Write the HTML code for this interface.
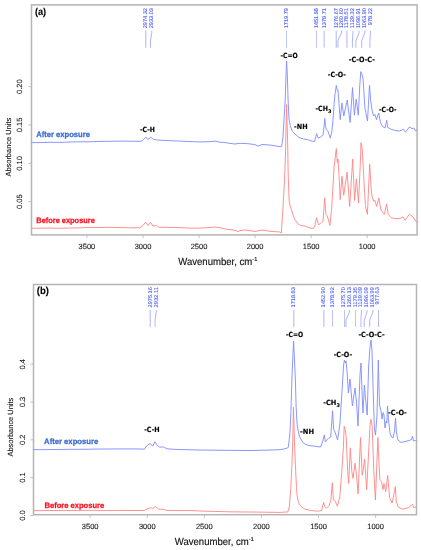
<!DOCTYPE html>
<html><head><meta charset="utf-8"><title>FTIR spectra</title>
<style>
html,body{margin:0;padding:0;background:#fff;}
body{width:421px;height:550px;overflow:hidden;}
svg{display:block;font-family:'Liberation Sans', Arial, sans-serif;text-rendering:geometricPrecision;}
</style></head>
<body>
<svg width="421" height="550" viewBox="0 0 421 550">
<rect width="421" height="550" fill="#fff"/>
<rect x="31.5" y="4.9" width="385.6" height="230.0" fill="none" stroke="#b4b4b4" stroke-width="1.5"/>
<line x1="86.9" y1="234.9" x2="86.9" y2="238.1" stroke="#b4b4b4" stroke-width="0.8"/>
<text x="86.9" y="249.20000000000002" font-size="7.5" font-weight="normal" fill="#222" text-anchor="middle" stroke="#222" stroke-width="0.12">3500</text>
<line x1="143.0" y1="234.9" x2="143.0" y2="238.1" stroke="#b4b4b4" stroke-width="0.8"/>
<text x="143.0" y="249.20000000000002" font-size="7.5" font-weight="normal" fill="#222" text-anchor="middle" stroke="#222" stroke-width="0.12">3000</text>
<line x1="199.0" y1="234.9" x2="199.0" y2="238.1" stroke="#b4b4b4" stroke-width="0.8"/>
<text x="199.0" y="249.20000000000002" font-size="7.5" font-weight="normal" fill="#222" text-anchor="middle" stroke="#222" stroke-width="0.12">2500</text>
<line x1="255.1" y1="234.9" x2="255.1" y2="238.1" stroke="#b4b4b4" stroke-width="0.8"/>
<text x="255.1" y="249.20000000000002" font-size="7.5" font-weight="normal" fill="#222" text-anchor="middle" stroke="#222" stroke-width="0.12">2000</text>
<line x1="311.2" y1="234.9" x2="311.2" y2="238.1" stroke="#b4b4b4" stroke-width="0.8"/>
<text x="311.2" y="249.20000000000002" font-size="7.5" font-weight="normal" fill="#222" text-anchor="middle" stroke="#222" stroke-width="0.12">1500</text>
<line x1="367.2" y1="234.9" x2="367.2" y2="238.1" stroke="#b4b4b4" stroke-width="0.8"/>
<text x="367.2" y="249.20000000000002" font-size="7.5" font-weight="normal" fill="#222" text-anchor="middle" stroke="#222" stroke-width="0.12">1000</text>
<line x1="28.3" y1="201.6" x2="31.5" y2="201.6" stroke="#b4b4b4" stroke-width="0.8"/>
<text x="21.9" y="201.6" font-size="7.5" font-weight="normal" fill="#222" text-anchor="middle" transform="rotate(-90 21.9 201.6)" stroke="#222" stroke-width="0.12">0.05</text>
<line x1="28.3" y1="163.4" x2="31.5" y2="163.4" stroke="#b4b4b4" stroke-width="0.8"/>
<text x="21.9" y="163.4" font-size="7.5" font-weight="normal" fill="#222" text-anchor="middle" transform="rotate(-90 21.9 163.4)" stroke="#222" stroke-width="0.12">0.10</text>
<line x1="28.3" y1="124.9" x2="31.5" y2="124.9" stroke="#b4b4b4" stroke-width="0.8"/>
<text x="21.9" y="124.9" font-size="7.5" font-weight="normal" fill="#222" text-anchor="middle" transform="rotate(-90 21.9 124.9)" stroke="#222" stroke-width="0.12">0.15</text>
<line x1="28.3" y1="86.6" x2="31.5" y2="86.6" stroke="#b4b4b4" stroke-width="0.8"/>
<text x="21.9" y="86.6" font-size="7.5" font-weight="normal" fill="#222" text-anchor="middle" transform="rotate(-90 21.9 86.6)" stroke="#222" stroke-width="0.12">0.20</text>
<text x="178.3" y="265.3" font-size="10.3" fill="#111" stroke="#111" stroke-width="0.15"><tspan textLength="74.0" lengthAdjust="spacingAndGlyphs">Wavenumber, cm</tspan><tspan font-size="5.6" dy="-3.9">-1</tspan></text>
<text x="11.2" y="147.2" font-size="7.5" font-weight="normal" fill="#222" text-anchor="middle" textLength="58.8" lengthAdjust="spacingAndGlyphs" transform="rotate(-90 11.2 147.2)" stroke="#222" stroke-width="0.12">Absorbance Units</text>
<rect x="33.5" y="284.5" width="383.0" height="230.2" fill="none" stroke="#b4b4b4" stroke-width="1.5"/>
<line x1="90.2" y1="514.7" x2="90.2" y2="517.9" stroke="#b4b4b4" stroke-width="0.8"/>
<text x="90.2" y="529.0" font-size="7.5" font-weight="normal" fill="#222" text-anchor="middle" stroke="#222" stroke-width="0.12">3500</text>
<line x1="147.3" y1="514.7" x2="147.3" y2="517.9" stroke="#b4b4b4" stroke-width="0.8"/>
<text x="147.3" y="529.0" font-size="7.5" font-weight="normal" fill="#222" text-anchor="middle" stroke="#222" stroke-width="0.12">3000</text>
<line x1="204.3" y1="514.7" x2="204.3" y2="517.9" stroke="#b4b4b4" stroke-width="0.8"/>
<text x="204.3" y="529.0" font-size="7.5" font-weight="normal" fill="#222" text-anchor="middle" stroke="#222" stroke-width="0.12">2500</text>
<line x1="261.4" y1="514.7" x2="261.4" y2="517.9" stroke="#b4b4b4" stroke-width="0.8"/>
<text x="261.4" y="529.0" font-size="7.5" font-weight="normal" fill="#222" text-anchor="middle" stroke="#222" stroke-width="0.12">2000</text>
<line x1="318.5" y1="514.7" x2="318.5" y2="517.9" stroke="#b4b4b4" stroke-width="0.8"/>
<text x="318.5" y="529.0" font-size="7.5" font-weight="normal" fill="#222" text-anchor="middle" stroke="#222" stroke-width="0.12">1500</text>
<line x1="375.6" y1="514.7" x2="375.6" y2="517.9" stroke="#b4b4b4" stroke-width="0.8"/>
<text x="375.6" y="529.0" font-size="7.5" font-weight="normal" fill="#222" text-anchor="middle" stroke="#222" stroke-width="0.12">1000</text>
<line x1="30.3" y1="515.5" x2="33.5" y2="515.5" stroke="#b4b4b4" stroke-width="0.8"/>
<text x="24.799999999999997" y="515.5" font-size="7.5" font-weight="normal" fill="#222" text-anchor="middle" transform="rotate(-90 24.799999999999997 515.5)" stroke="#222" stroke-width="0.12">0.0</text>
<line x1="30.3" y1="477.6" x2="33.5" y2="477.6" stroke="#b4b4b4" stroke-width="0.8"/>
<text x="24.799999999999997" y="477.6" font-size="7.5" font-weight="normal" fill="#222" text-anchor="middle" transform="rotate(-90 24.799999999999997 477.6)" stroke="#222" stroke-width="0.12">0.1</text>
<line x1="30.3" y1="439.8" x2="33.5" y2="439.8" stroke="#b4b4b4" stroke-width="0.8"/>
<text x="24.799999999999997" y="439.8" font-size="7.5" font-weight="normal" fill="#222" text-anchor="middle" transform="rotate(-90 24.799999999999997 439.8)" stroke="#222" stroke-width="0.12">0.2</text>
<line x1="30.3" y1="402.0" x2="33.5" y2="402.0" stroke="#b4b4b4" stroke-width="0.8"/>
<text x="24.799999999999997" y="402.0" font-size="7.5" font-weight="normal" fill="#222" text-anchor="middle" transform="rotate(-90 24.799999999999997 402.0)" stroke="#222" stroke-width="0.12">0.3</text>
<line x1="30.3" y1="364.2" x2="33.5" y2="364.2" stroke="#b4b4b4" stroke-width="0.8"/>
<text x="24.799999999999997" y="364.2" font-size="7.5" font-weight="normal" fill="#222" text-anchor="middle" transform="rotate(-90 24.799999999999997 364.2)" stroke="#222" stroke-width="0.12">0.4</text>
<text x="174.8" y="544.6" font-size="10.3" fill="#111" stroke="#111" stroke-width="0.15"><tspan textLength="74.0" lengthAdjust="spacingAndGlyphs">Wavenumber, cm</tspan><tspan font-size="5.6" dy="-3.9">-1</tspan></text>
<text x="13.2" y="427.1" font-size="7.5" font-weight="normal" fill="#222" text-anchor="middle" textLength="58.8" lengthAdjust="spacingAndGlyphs" transform="rotate(-90 13.2 427.1)" stroke="#222" stroke-width="0.12">Absorbance Units</text>
<text x="34.9" y="15.3" font-size="10.0" font-weight="bold" fill="#000" textLength="11.3" lengthAdjust="spacingAndGlyphs" stroke="#000" stroke-width="0.1">(a)</text>
<text x="36.8" y="293.5" font-size="10.2" font-weight="bold" fill="#000" textLength="12.2" lengthAdjust="spacingAndGlyphs" stroke="#000" stroke-width="0.1">(b)</text>
<text x="36.2" y="137.0" font-size="7.9" font-weight="bold" fill="#3a6bcf" textLength="53.7" lengthAdjust="spacingAndGlyphs" stroke="#3a6bcf" stroke-width="0.25">After exposure</text>
<text x="36.3" y="223.0" font-size="7.9" font-weight="bold" fill="#ff0f1f" textLength="58.5" lengthAdjust="spacingAndGlyphs" stroke="#ff0f1f" stroke-width="0.25">Before exposure</text>
<text x="44.1" y="443.8" font-size="7.9" font-weight="bold" fill="#3a6bcf" textLength="54.1" lengthAdjust="spacingAndGlyphs" stroke="#3a6bcf" stroke-width="0.25">After exposure</text>
<text x="44.5" y="507.5" font-size="7.9" font-weight="bold" fill="#ff0f1f" textLength="59.7" lengthAdjust="spacingAndGlyphs" stroke="#ff0f1f" stroke-width="0.25">Before exposure</text>
<text x="140.0" y="131.5" font-size="7.2" font-weight="bold" fill="#000" textLength="15.0" lengthAdjust="spacingAndGlyphs" stroke="#000" stroke-width="0.12" font-family="DejaVu Sans">-C-H</text>
<text x="280.4" y="57.6" font-size="7.2" font-weight="bold" fill="#000" textLength="17.4" lengthAdjust="spacingAndGlyphs" stroke="#000" stroke-width="0.12" font-family="DejaVu Sans">-C=O</text>
<text x="294.1" y="129.0" font-size="7.2" font-weight="bold" fill="#000" textLength="13.5" lengthAdjust="spacingAndGlyphs" stroke="#000" stroke-width="0.12" font-family="DejaVu Sans">-NH</text>
<text x="315.5" y="111.2" font-size="7.2" font-weight="bold" fill="#000" stroke="#000" stroke-width="0.12" font-family="DejaVu Sans"><tspan textLength="12.5" lengthAdjust="spacingAndGlyphs">-CH</tspan><tspan font-size="5" dy="1.6">3</tspan></text>
<text x="327.8" y="77.0" font-size="7.2" font-weight="bold" fill="#000" textLength="18.2" lengthAdjust="spacingAndGlyphs" stroke="#000" stroke-width="0.12" font-family="DejaVu Sans">-C-O-</text>
<text x="348.7" y="61.9" font-size="7.2" font-weight="bold" fill="#000" textLength="26.3" lengthAdjust="spacingAndGlyphs" stroke="#000" stroke-width="0.12" font-family="DejaVu Sans">-C-O-C-</text>
<text x="379.1" y="112.0" font-size="7.2" font-weight="bold" fill="#000" textLength="17.4" lengthAdjust="spacingAndGlyphs" stroke="#000" stroke-width="0.12" font-family="DejaVu Sans">-C-O-</text>
<text x="144.2" y="431.5" font-size="7.2" font-weight="bold" fill="#000" textLength="15.5" lengthAdjust="spacingAndGlyphs" stroke="#000" stroke-width="0.12" font-family="DejaVu Sans">-C-H</text>
<text x="286.0" y="336.9" font-size="7.2" font-weight="bold" fill="#000" textLength="17.1" lengthAdjust="spacingAndGlyphs" stroke="#000" stroke-width="0.12" font-family="DejaVu Sans">-C=O</text>
<text x="300.0" y="434.1" font-size="7.2" font-weight="bold" fill="#000" textLength="14.0" lengthAdjust="spacingAndGlyphs" stroke="#000" stroke-width="0.12" font-family="DejaVu Sans">-NH</text>
<text x="323.2" y="404.9" font-size="7.2" font-weight="bold" fill="#000" stroke="#000" stroke-width="0.12" font-family="DejaVu Sans"><tspan textLength="13.2" lengthAdjust="spacingAndGlyphs">-CH</tspan><tspan font-size="5" dy="1.6">3</tspan></text>
<text x="333.7" y="356.5" font-size="7.2" font-weight="bold" fill="#000" textLength="18.4" lengthAdjust="spacingAndGlyphs" stroke="#000" stroke-width="0.12" font-family="DejaVu Sans">-C-O-</text>
<text x="358.4" y="336.8" font-size="7.2" font-weight="bold" fill="#000" textLength="26.2" lengthAdjust="spacingAndGlyphs" stroke="#000" stroke-width="0.12" font-family="DejaVu Sans">-C-O-C-</text>
<text x="388.0" y="415.2" font-size="7.2" font-weight="bold" fill="#000" textLength="18.8" lengthAdjust="spacingAndGlyphs" stroke="#000" stroke-width="0.12" font-family="DejaVu Sans">-C-O-</text>
<text x="146.9" y="28.3" font-size="5.5" fill="#4f60f2" stroke="#4f60f2" stroke-width="0.1" textLength="20.3" lengthAdjust="spacingAndGlyphs" transform="rotate(-90 146.9 28.3)">2974.32</text>
<line x1="145.8" y1="30.6" x2="145.8" y2="47.7" stroke="#4f60f2" stroke-width="0.55" opacity="0.85"/>
<text x="153.4" y="28.3" font-size="5.5" fill="#4f60f2" stroke="#4f60f2" stroke-width="0.1" textLength="20.3" lengthAdjust="spacingAndGlyphs" transform="rotate(-90 153.4 28.3)">2933.03</text>
<polyline points="151.8,30.6 151.8,32.7 150.5,40.9 150.5,47.7" fill="none" stroke="#4f60f2" stroke-width="0.55" opacity="0.85"/>
<text x="288.0" y="28.3" font-size="5.5" fill="#4f60f2" stroke="#4f60f2" stroke-width="0.1" textLength="20.3" lengthAdjust="spacingAndGlyphs" transform="rotate(-90 288.0 28.3)">1719.79</text>
<line x1="286.7" y1="30.6" x2="286.7" y2="47.7" stroke="#4f60f2" stroke-width="0.55" opacity="0.85"/>
<text x="317.9" y="28.3" font-size="5.5" fill="#4f60f2" stroke="#4f60f2" stroke-width="0.1" textLength="20.3" lengthAdjust="spacingAndGlyphs" transform="rotate(-90 317.9 28.3)">1451.88</text>
<line x1="316.3" y1="30.6" x2="316.3" y2="47.7" stroke="#4f60f2" stroke-width="0.55" opacity="0.85"/>
<text x="325.9" y="28.3" font-size="5.5" fill="#4f60f2" stroke="#4f60f2" stroke-width="0.1" textLength="20.3" lengthAdjust="spacingAndGlyphs" transform="rotate(-90 325.9 28.3)">1378.71</text>
<line x1="324.1" y1="30.6" x2="324.1" y2="47.7" stroke="#4f60f2" stroke-width="0.55" opacity="0.85"/>
<text x="337.7" y="28.3" font-size="5.5" fill="#4f60f2" stroke="#4f60f2" stroke-width="0.1" textLength="20.3" lengthAdjust="spacingAndGlyphs" transform="rotate(-90 337.7 28.3)">1276.67</text>
<line x1="336.2" y1="30.6" x2="336.2" y2="47.7" stroke="#4f60f2" stroke-width="0.55" opacity="0.85"/>
<text x="343.1" y="28.3" font-size="5.5" fill="#4f60f2" stroke="#4f60f2" stroke-width="0.1" textLength="20.3" lengthAdjust="spacingAndGlyphs" transform="rotate(-90 343.1 28.3)">1260.60</text>
<polyline points="341.5,30.6 341.5,32.7 337.9,40.9 337.9,47.7" fill="none" stroke="#4f60f2" stroke-width="0.55" opacity="0.85"/>
<text x="348.4" y="28.3" font-size="5.5" fill="#4f60f2" stroke="#4f60f2" stroke-width="0.1" textLength="20.3" lengthAdjust="spacingAndGlyphs" transform="rotate(-90 348.4 28.3)">1178.51</text>
<line x1="346.9" y1="30.6" x2="346.9" y2="47.7" stroke="#4f60f2" stroke-width="0.55" opacity="0.85"/>
<text x="354.5" y="28.3" font-size="5.5" fill="#4f60f2" stroke="#4f60f2" stroke-width="0.1" textLength="20.3" lengthAdjust="spacingAndGlyphs" transform="rotate(-90 354.5 28.3)">1129.32</text>
<polyline points="352.9,30.6 352.9,32.7 352.4,40.9 352.4,47.7" fill="none" stroke="#4f60f2" stroke-width="0.55" opacity="0.85"/>
<text x="360.2" y="28.3" font-size="5.5" fill="#4f60f2" stroke="#4f60f2" stroke-width="0.1" textLength="20.3" lengthAdjust="spacingAndGlyphs" transform="rotate(-90 360.2 28.3)">1096.91</text>
<polyline points="359.0,30.6 359.0,32.7 355.9,40.9 355.9,47.7" fill="none" stroke="#4f60f2" stroke-width="0.55" opacity="0.85"/>
<text x="365.9" y="28.3" font-size="5.5" fill="#4f60f2" stroke="#4f60f2" stroke-width="0.1" textLength="20.3" lengthAdjust="spacingAndGlyphs" transform="rotate(-90 365.9 28.3)">1063.90</text>
<polyline points="364.8,30.6 364.8,32.7 361.7,40.9 361.7,47.7" fill="none" stroke="#4f60f2" stroke-width="0.55" opacity="0.85"/>
<text x="371.6" y="25.2" font-size="5.5" fill="#4f60f2" stroke="#4f60f2" stroke-width="0.1" textLength="17.2" lengthAdjust="spacingAndGlyphs" transform="rotate(-90 371.6 25.2)">978.22</text>
<polyline points="370.4,30.6 370.4,32.7 369.9,40.9 369.9,47.7" fill="none" stroke="#4f60f2" stroke-width="0.55" opacity="0.85"/>
<text x="151.6" y="307.5" font-size="5.5" fill="#4f60f2" stroke="#4f60f2" stroke-width="0.1" textLength="20.4" lengthAdjust="spacingAndGlyphs" transform="rotate(-90 151.6 307.5)">2975.16</text>
<line x1="150.2" y1="310.0" x2="150.2" y2="327.0" stroke="#4f60f2" stroke-width="0.55" opacity="0.85"/>
<text x="157.6" y="307.5" font-size="5.5" fill="#4f60f2" stroke="#4f60f2" stroke-width="0.1" textLength="20.4" lengthAdjust="spacingAndGlyphs" transform="rotate(-90 157.6 307.5)">2932.11</text>
<polyline points="156.2,310.0 156.2,312.0 155.1,320.2 155.1,327.0" fill="none" stroke="#4f60f2" stroke-width="0.55" opacity="0.85"/>
<text x="295.4" y="307.5" font-size="5.5" fill="#4f60f2" stroke="#4f60f2" stroke-width="0.1" textLength="20.4" lengthAdjust="spacingAndGlyphs" transform="rotate(-90 295.4 307.5)">1718.83</text>
<line x1="293.8" y1="310.0" x2="293.8" y2="327.0" stroke="#4f60f2" stroke-width="0.55" opacity="0.85"/>
<text x="325.4" y="307.5" font-size="5.5" fill="#4f60f2" stroke="#4f60f2" stroke-width="0.1" textLength="20.4" lengthAdjust="spacingAndGlyphs" transform="rotate(-90 325.4 307.5)">1452.90</text>
<line x1="323.9" y1="310.0" x2="323.9" y2="327.0" stroke="#4f60f2" stroke-width="0.55" opacity="0.85"/>
<text x="333.5" y="307.5" font-size="5.5" fill="#4f60f2" stroke="#4f60f2" stroke-width="0.1" textLength="20.4" lengthAdjust="spacingAndGlyphs" transform="rotate(-90 333.5 307.5)">1378.92</text>
<line x1="332.3" y1="310.0" x2="332.3" y2="327.0" stroke="#4f60f2" stroke-width="0.55" opacity="0.85"/>
<text x="345.1" y="307.5" font-size="5.5" fill="#4f60f2" stroke="#4f60f2" stroke-width="0.1" textLength="20.4" lengthAdjust="spacingAndGlyphs" transform="rotate(-90 345.1 307.5)">1275.70</text>
<line x1="344.3" y1="310.0" x2="344.3" y2="327.0" stroke="#4f60f2" stroke-width="0.55" opacity="0.85"/>
<text x="350.5" y="307.5" font-size="5.5" fill="#4f60f2" stroke="#4f60f2" stroke-width="0.1" textLength="20.4" lengthAdjust="spacingAndGlyphs" transform="rotate(-90 350.5 307.5)">1260.13</text>
<polyline points="349.5,310.0 349.5,312.0 345.9,320.2 345.9,327.0" fill="none" stroke="#4f60f2" stroke-width="0.55" opacity="0.85"/>
<text x="356.5" y="307.5" font-size="5.5" fill="#4f60f2" stroke="#4f60f2" stroke-width="0.1" textLength="20.4" lengthAdjust="spacingAndGlyphs" transform="rotate(-90 356.5 307.5)">1179.35</text>
<line x1="355.7" y1="310.0" x2="355.7" y2="327.0" stroke="#4f60f2" stroke-width="0.55" opacity="0.85"/>
<text x="362.2" y="307.5" font-size="5.5" fill="#4f60f2" stroke="#4f60f2" stroke-width="0.1" textLength="20.4" lengthAdjust="spacingAndGlyphs" transform="rotate(-90 362.2 307.5)">1129.09</text>
<polyline points="361.4,310.0 361.4,312.0 361.0,320.2 361.0,327.0" fill="none" stroke="#4f60f2" stroke-width="0.55" opacity="0.85"/>
<text x="367.9" y="307.5" font-size="5.5" fill="#4f60f2" stroke="#4f60f2" stroke-width="0.1" textLength="20.4" lengthAdjust="spacingAndGlyphs" transform="rotate(-90 367.9 307.5)">1096.09</text>
<polyline points="367.0,310.0 367.0,312.0 364.2,320.2 364.2,327.0" fill="none" stroke="#4f60f2" stroke-width="0.55" opacity="0.85"/>
<text x="373.6" y="307.5" font-size="5.5" fill="#4f60f2" stroke="#4f60f2" stroke-width="0.1" textLength="20.4" lengthAdjust="spacingAndGlyphs" transform="rotate(-90 373.6 307.5)">1063.99</text>
<polyline points="372.8,310.0 372.8,312.0 369.7,320.2 369.7,327.0" fill="none" stroke="#4f60f2" stroke-width="0.55" opacity="0.85"/>
<text x="379.3" y="304.4" font-size="5.5" fill="#4f60f2" stroke="#4f60f2" stroke-width="0.1" textLength="17.3" lengthAdjust="spacingAndGlyphs" transform="rotate(-90 379.3 304.4)">977.63</text>
<line x1="378.4" y1="310.0" x2="378.4" y2="327.0" stroke="#4f60f2" stroke-width="0.55" opacity="0.85"/>
<polyline points="31.5,228.3 40.0,228.2 50.0,228.0 60.0,228.3 70.0,228.0 80.0,227.8 90.0,227.4 100.0,227.5 110.0,227.3 120.0,227.6 130.0,227.8 140.0,227.8 142.5,226.0 145.7,222.1 148.1,225.5 150.5,222.4 152.9,226.0 156.7,225.7 158.6,227.2 170.0,227.4 180.0,227.6 190.0,228.1 200.0,228.1 210.0,227.5 215.2,227.0 220.0,227.8 225.0,229.0 232.0,229.8 236.0,230.5 238.0,231.8 240.0,230.5 245.0,230.0 250.0,230.7 255.0,231.5 258.0,230.8 262.0,230.0 270.0,231.3 275.0,231.6 280.0,232.0 281.3,233.0 282.5,215.0 283.9,192.4 285.0,168.0 285.6,150.0 286.0,130.0 286.5,104.5 287.2,125.0 287.7,145.0 288.2,175.0 289.1,200.0 290.2,206.5 291.4,209.8 294.3,218.5 297.8,223.8 300.5,225.3 305.5,226.3 310.0,228.1 313.5,228.4 314.8,225.5 316.6,217.7 318.3,224.6 320.4,223.8 323.0,221.2 324.7,197.9 325.9,214.3 327.3,216.0 329.9,225.5 331.6,209.1 334.2,165.9 336.3,148.6 337.3,162.5 338.0,159.0 339.0,174.5 340.2,199.6 342.0,176.3 343.7,195.3 347.1,172.0 349.7,206.5 352.7,159.0 354.6,200.4 356.4,178.9 358.5,203.0 360.2,165.9 361.0,142.6 362.3,149.5 363.6,174.5 365.4,205.6 367.4,214.3 369.7,164.2 370.9,184.9 371.9,196.1 373.7,201.3 374.9,200.4 376.6,206.5 378.8,197.9 380.9,210.0 384.4,214.3 386.6,203.9 388.2,214.3 391.3,217.7 394.7,218.6 399.9,218.6 403.0,216.9 405.1,220.3 409.4,214.3 412.9,216.9 417.0,222.9" fill="none" stroke="#ff8585" stroke-width="0.9" stroke-linejoin="round" />
<polyline points="31.5,142.6 40.0,142.6 50.0,142.3 60.0,142.4 70.0,142.0 80.0,141.8 90.0,141.8 100.0,141.4 110.0,141.3 120.0,141.1 130.0,141.2 138.0,141.3 141.4,141.2 143.5,139.5 145.7,137.1 148.1,139.5 150.5,137.1 153.8,139.5 157.6,140.0 160.0,140.2 170.0,140.7 180.0,141.1 190.0,141.6 200.0,141.9 210.0,141.7 215.0,141.1 220.0,142.2 225.0,142.6 230.0,143.4 235.0,144.0 240.0,143.3 248.0,143.7 255.0,144.6 258.0,146.2 262.0,144.5 270.0,145.0 275.0,145.8 280.0,146.8 281.6,146.6 282.9,138.0 284.3,114.3 285.2,100.0 286.0,75.0 286.6,61.1 287.3,75.0 288.1,100.0 289.0,119.0 290.5,126.6 292.4,131.4 295.2,134.2 299.0,137.5 303.8,139.0 308.5,139.9 312.3,141.3 314.6,141.4 316.6,133.6 318.2,138.1 320.5,137.1 323.1,134.9 324.2,125.1 324.8,118.5 325.5,126.4 326.4,129.6 328.1,131.6 330.3,138.1 331.6,132.9 332.9,121.1 334.2,102.8 334.9,95.0 336.3,85.4 337.3,90.5 338.0,90.0 339.0,103.6 340.2,119.6 341.9,102.9 343.8,116.0 347.2,100.0 350.1,122.5 352.5,87.6 354.4,115.2 356.2,99.2 358.3,115.2 359.8,85.0 360.8,71.6 362.0,74.5 363.1,78.9 364.9,108.0 367.5,121.0 369.5,85.4 370.7,100.7 372.2,110.9 373.6,116.0 375.0,114.5 376.5,119.6 378.7,113.0 380.5,122.7 382.9,126.8 385.0,128.0 386.7,120.3 387.6,127.4 391.2,129.2 394.8,130.4 399.5,131.0 403.1,129.2 405.4,132.2 409.6,126.8 412.0,128.6 413.8,128.0 415.5,131.0 417.0,129.8" fill="none" stroke="#7f8bff" stroke-width="0.9" stroke-linejoin="round" />
<polyline points="33.3,510.6 40.0,510.7 50.0,510.5 60.0,510.6 70.0,510.5 80.0,510.4 90.0,510.3 100.0,510.4 110.0,510.5 120.0,510.4 130.0,510.5 144.2,510.5 147.0,509.0 150.7,507.7 152.8,508.7 155.4,506.3 158.5,509.1 164.2,509.4 167.0,510.5 180.0,510.6 190.0,510.5 200.0,511.0 210.0,511.3 230.0,511.8 250.0,512.0 265.0,512.2 280.0,512.4 286.0,512.0 287.8,511.9 289.3,507.0 290.7,489.9 292.1,461.4 292.8,440.0 293.4,407.3 294.0,425.0 294.4,440.0 295.2,460.0 295.9,476.0 296.5,487.5 297.1,495.6 298.5,502.7 300.7,506.2 304.9,509.1 310.6,510.5 317.8,511.2 321.8,510.5 322.7,505.5 323.7,502.4 324.9,507.0 326.3,508.4 329.2,505.5 330.9,499.8 332.3,482.7 333.4,499.8 334.9,500.5 337.4,506.2 339.8,497.0 342.0,468.5 343.4,447.1 344.2,426.3 345.2,429.4 346.2,436.6 347.7,471.3 348.7,483.5 350.3,447.8 351.8,471.3 353.0,478.4 355.0,463.1 356.5,475.4 358.1,493.8 360.5,437.6 362.2,475.4 363.2,469.2 364.6,459.0 366.7,489.7 368.7,450.9 370.1,424.3 371.0,419.2 372.2,426.3 373.8,471.3 375.4,499.9 377.9,437.6 378.9,461.1 379.9,479.5 381.6,481.5 383.0,489.7 384.0,483.5 385.7,491.7 387.7,475.4 389.7,497.8 392.2,503.0 395.3,486.6 396.3,501.9 398.3,507.0 402.4,509.1 408.5,507.7 412.6,504.4 413.7,507.7 416.5,506.8" fill="none" stroke="#ff8585" stroke-width="0.9" stroke-linejoin="round" />
<polyline points="33.3,449.6 40.0,449.7 50.0,449.5 60.0,449.5 70.0,449.3 80.0,449.3 90.0,449.2 100.0,449.0 110.0,449.0 120.0,448.9 130.0,448.9 140.0,449.0 144.5,449.2 146.4,446.0 150.2,443.4 152.6,446.2 155.0,441.7 157.4,445.5 159.8,447.2 162.6,446.9 164.5,447.4 166.9,448.8 175.0,449.4 190.0,449.8 200.0,450.0 210.0,450.1 220.0,450.3 235.0,450.4 250.0,450.5 265.0,450.2 280.0,449.7 284.0,449.0 287.1,448.0 288.2,447.6 289.8,435.0 290.9,412.7 291.9,380.0 292.7,360.0 293.6,341.2 294.5,360.0 295.4,380.0 296.1,406.2 297.1,424.5 297.7,428.4 299.4,436.3 302.6,442.2 305.0,444.1 308.0,445.3 314.3,446.2 320.7,447.0 322.5,442.0 324.3,434.9 325.4,442.0 327.0,439.5 328.6,438.4 330.7,437.0 332.6,410.7 333.6,429.2 335.0,432.0 337.6,439.9 340.0,423.0 342.0,391.0 343.6,365.0 344.4,360.0 345.4,363.0 346.0,361.0 347.0,371.0 348.4,393.0 350.0,379.0 351.4,395.0 352.4,406.0 355.0,388.0 356.4,401.0 358.0,426.0 360.0,375.0 361.0,363.0 362.4,401.0 363.0,413.0 364.4,385.0 365.6,399.0 367.2,415.0 368.6,367.0 370.0,347.0 371.0,340.0 372.0,351.0 373.0,385.0 374.4,429.0 375.5,435.0 377.0,415.0 377.5,395.0 378.3,360.0 379.5,405.0 380.5,409.0 381.0,411.0 382.0,419.0 383.0,412.5 384.0,415.0 385.0,428.0 386.2,421.0 386.8,423.0 387.5,406.0 388.5,420.0 390.0,433.0 391.5,437.0 393.0,438.0 394.5,431.0 395.5,418.0 396.5,433.0 398.0,440.0 401.0,442.5 405.0,441.5 409.0,440.5 411.5,439.5 412.5,436.0 413.5,441.0 415.5,440.5 416.5,440.5" fill="none" stroke="#7f8bff" stroke-width="0.9" stroke-linejoin="round" />
</svg>
</body></html>
